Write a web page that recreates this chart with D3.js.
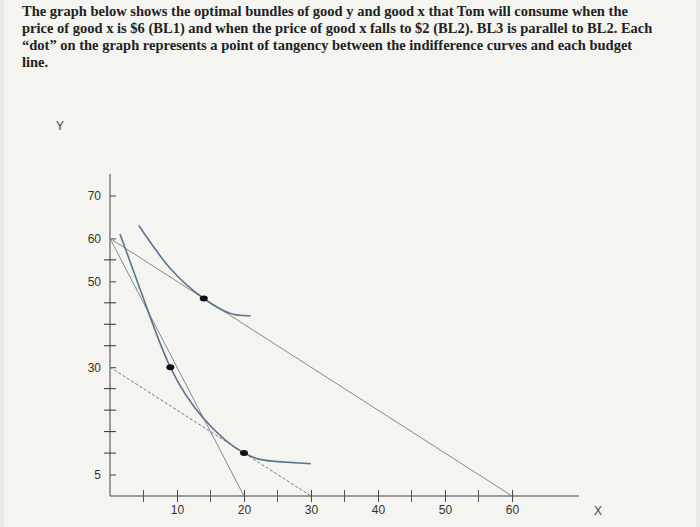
<!DOCTYPE html>
<html><head><meta charset="utf-8">
<script src="https://cdn.jsdelivr.net/npm/d3@7"></script>
<style>body{margin:0;background:#e9e9e6}</style>
</head><body>
<svg width="700" height="527"></svg>
<script>
var textLines = [
 "The graph below shows the optimal bundles of good y and good x that Tom will consume when the",
 "price of good x is $6 (BL1) and when the price of good x falls to $2 (BL2). BL3 is parallel to BL2. Each",
 "\u201Cdot\u201D on the graph represents a point of tangency between the indifference curves and each budget",
 "line."];
var xTicks = [10, 20, 30, 40, 50, 60];
var yTickLabels = [5, 30, 50, 60, 70];
var yMinor = [10, 15, 20, 25, 35, 40, 45, 55];
var xMinor = [5, 15, 25, 35, 45, 55];
var bl1 = [[0, 60], [20, 0]];
var bl2 = [[0, 60], [60, 0]];
var bl3 = [[0, 30], [30, 0]];
var icLow = [[1.5, 61], [5, 46], [9, 30], [14, 18], [20, 10], [25, 8], [30, 7.5]];
var icHigh = [[4.3, 63], [9, 53], [14, 46], [18, 42.5], [21, 42]];
var dots = [[9, 30], [14, 46], [20, 10]];

var svg = d3.select("svg");
svg.append("rect").attr("x", 4).attr("y", 0).attr("width", 692).attr("height", 527).attr("fill", "#f4f4f1");
svg.append("g").selectAll("text").data(textLines).join("text")
  .attr("x", 22).attr("y", (d, i) => 16 + i * 17)
  .attr("font-family", "Liberation Serif").attr("font-weight", "bold").attr("font-size", 14.5)
  .attr("fill", "#222").text(d => d);

var x = d3.scaleLinear().domain([0, 70]).range([110, 579]);
var y = d3.scaleLinear().domain([0, 75]).range([496, 174]);

var ax = svg.append("g").attr("transform", "translate(0," + y(0) + ")")
  .call(d3.axisBottom(x).tickValues(xTicks).tickSize(6).tickFormat(d3.format("d")));
ax.select(".domain").attr("d", "M" + x(0) + ",0H" + x(70));
ax.selectAll(".tick line").attr("y1", -6);
var ay = svg.append("g").attr("transform", "translate(" + x(0) + ",0)")
  .call(d3.axisLeft(y).tickValues(yTickLabels).tickSize(6));
ay.selectAll(".tick line").attr("x2", 6);
ay.select(".domain").attr("d", "M0," + y(0) + "V" + y(75));
svg.append("g").selectAll("line").data(yMinor).join("line")
  .attr("x1", x(0) - 6).attr("x2", x(0) + 6).attr("y1", d => y(d)).attr("y2", d => y(d)).attr("stroke", "#333");
svg.append("g").selectAll("line").data(xMinor).join("line")
  .attr("x1", d => x(d)).attr("x2", d => x(d)).attr("y1", y(0) - 6).attr("y2", y(0) + 6).attr("stroke", "#555");
svg.selectAll(".domain, .tick line").attr("stroke", "#444");
svg.selectAll(".tick text").attr("font-family", "Liberation Sans").attr("font-size", 12).attr("fill", "#333");

svg.append("text").attr("x", 56).attr("y", 130).text("Y").attr("font-family", "Liberation Sans").attr("font-size", 12).attr("fill", "#444");
svg.append("text").attr("x", 594).attr("y", 515).text("X").attr("font-family", "Liberation Sans").attr("font-size", 12).attr("fill", "#444");

var line = d3.line().x(d => x(d[0])).y(d => y(d[1]));
svg.append("path").attr("d", line(bl1)).attr("stroke", "#888").attr("fill", "none");
svg.append("path").attr("d", line(bl2)).attr("stroke", "#888").attr("fill", "none");
svg.append("path").attr("d", line(bl3)).attr("stroke", "#777").attr("stroke-dasharray", "3,2").attr("fill", "none");
var curve = d3.line().x(d => x(d[0])).y(d => y(d[1])).curve(d3.curveNatural);
svg.append("path").attr("d", curve(icLow)).attr("stroke", "#5a7590").attr("stroke-width", 1.6).attr("fill", "none");
svg.append("path").attr("d", curve(icHigh)).attr("stroke", "#5a7590").attr("stroke-width", 1.6).attr("fill", "none");
svg.append("g").selectAll("ellipse").data(dots).join("ellipse")
  .attr("cx", d => x(d[0])).attr("cy", d => y(d[1])).attr("rx", 4).attr("ry", 3).attr("fill", "#111");
</script>
</body></html>
